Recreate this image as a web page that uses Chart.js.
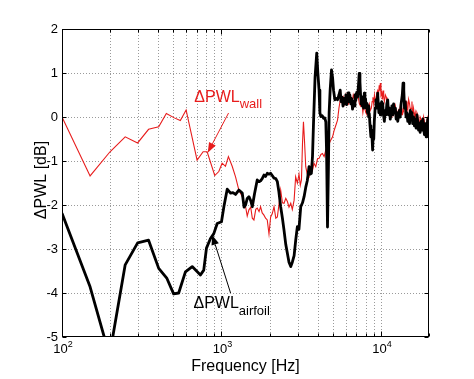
<!DOCTYPE html>
<html>
<head>
<meta charset="utf-8">
<script src="https://cdn.jsdelivr.net/npm/chart.js@4"></script>
<style>
html,body{margin:0;padding:0;background:#fff;}
#wrap{width:474px;height:379px;}
</style>
</head>
<body>
<div id="wrap"><canvas id="c" width="474" height="379"></canvas></div>
<script>
// ---------- data ----------
const xTickValues = [100,200,300,400,500,600,700,800,900,1000,2000,3000,4000,5000,6000,7000,8000,9000,10000,20000];
const xMajorTicks = [100,1000,10000];
const xMajorExponents = ['2','3','4'];
const yTickValues = [-5,-4,-3,-2,-1,0,1,2];

const wallFreq = [100,150,200,249,298,349,404,451,506,552,600,703,767,813,907,962,1009,1059,1105,1167,1225,1285,1350,1416,1450,1486,1525,1560,1597,1640,1675,1720,1758,1800,1846,1890,1936,1985,2033,2080,2135,2190,2240,2300,2350,2410,2466,2530,2590,2650,2718,2780,2853,2917,2990,3062,3120,3172,3220,3265,3310,3374,3450,3540,3620,3717,3800,3900,4000,4090,4200,4295,4400,4510,4680,4850,4970,5090,5200,5340,5450,5600,5700,5800,5900,6025,6140,6250,6360,6471,6580,6700,6820,6950,7080,7200,7320,7450,7580,7700,7800,7900,8030,8166,8300,8441,8570,8700,8800,8900,9000,9100,9200,9300,9420,9536,9650,9750,9830,9906,10000,10100,10200,10300,10400,10500,10650,10800,10900,11020,11150,11300,11430,11560,11700,11850,12000,12140,12300,12450,12600,12740,12900,13050,13200,13370,13500,13650,13800,13900,14100,14360,14540,14720,14900,15100,15280,15450,15630,15800,16000,16200,16400,16600,16800,17000,17200,17400,17600,17850,18050,18300,18500,18720,18950,19200,19430,19660,19830,20000];
const wallLevel = [0.0,-1.34,-0.79,-0.45,-0.59,-0.28,-0.22,0.08,-0.02,-0.08,0.16,-0.98,-0.79,-0.79,-1.33,-1.24,-1.05,-1.12,-0.9,-1.12,-1.36,-1.66,-1.81,-2.04,-2.25,-2.11,-2.05,-2.3,-2.34,-2.1,-2.07,-2.15,-2.04,-2.18,-2.23,-2.3,-2.34,-2.66,-2.27,-2.2,-2.04,-2.3,-2.27,-1.95,-1.66,-1.95,-1.96,-1.85,-1.92,-2.05,-1.96,-2.1,-1.89,-1.36,-1.5,-1.3,-1.55,-1.43,-0.6,-0.11,-0.5,-1.13,-1.3,-1.36,-1.15,-1.22,-1.05,-1.13,-0.95,-0.94,-0.85,-0.83,-0.9,-0.75,-0.65,-0.52,-0.45,-0.3,-0.2,-0.07,0.2,0.46,0.35,0.45,0.3,0.5,0.35,0.3,0.45,0.39,0.3,0.5,0.4,0.35,0.5,0.45,0.3,0.25,0.35,0.1,0.25,0.2,0.1,0.05,0.2,0.3,0.15,0.2,0.35,0.45,0.3,0.5,0.35,0.4,0.55,0.6,0.5,0.72,0.6,0.77,0.5,0.55,0.4,0.6,0.45,0.35,0.5,0.45,0.3,0.3,0.15,0.2,0.05,0.0,0.15,0.2,0.05,0.1,0.25,0.15,0.0,-0.05,0.15,0.1,0.25,0.2,0.05,0.05,0.2,0.15,0.3,0.35,0.2,0.15,0.4,0.3,0.15,0.2,0.35,0.05,0.2,0.0,0.1,-0.1,0.1,0.05,-0.15,-0.2,0.0,-0.05,-0.2,-0.2,0.0,-0.1,-0.3,-0.25,-0.05,0.0,-0.2,-0.15];

const airfoilFreq = [100,150,184,196,208,249,298,349,404,455,501,539,594,655,738,774,805,853,895,940,1000,1035,1086,1140,1180,1225,1285,1350,1385,1416,1450,1486,1525,1560,1610,1675,1720,1758,1800,1846,1890,1936,1985,2033,2080,2135,2190,2240,2290,2350,2410,2466,2530,2590,2650,2718,2780,2853,2920,2990,3060,3140,3220,3295,3374,3450,3540,3600,3660,3720,3775,3860,3955,4020,4090,4140,4195,4280,4365,4440,4510,4560,4620,4680,4730,4800,4895,4970,5040,5140,5240,5340,5450,5550,5620,5700,5780,5875,5950,6020,6090,6163,6230,6300,6380,6471,6550,6630,6710,6792,6870,6950,7040,7127,7220,7305,7380,7450,7510,7568,7630,7700,7780,7859,7930,8000,8080,8166,8230,8300,8370,8441,8540,8645,8750,8861,8950,9010,9080,9190,9304,9420,9536,9620,9700,9800,9906,10000,10100,10170,10250,10370,10500,10620,10750,10880,11020,11150,11300,11430,11560,11700,11850,12000,12140,12300,12450,12600,12740,12900,13050,13200,13370,13600,13750,13900,14050,14200,14360,14540,14720,14900,15100,15280,15450,15630,15800,16000,16200,16400,16600,16800,17000,17200,17400,17600,17850,18050,18300,18500,18720,18950,19200,19430,19660,19830,20000];
const airfoilLevel = [-2.19,-3.86,-5.0,-5.5,-5.0,-3.36,-2.86,-2.8,-3.44,-3.67,-4.02,-4.0,-3.52,-3.4,-3.59,-3.48,-2.98,-2.76,-2.65,-2.42,-2.38,-2.04,-1.64,-1.73,-1.72,-1.76,-1.66,-1.73,-2.05,-2.0,-1.85,-1.81,-1.9,-2.04,-1.75,-1.43,-1.47,-1.45,-1.4,-1.32,-1.35,-1.28,-1.3,-1.28,-1.33,-1.39,-1.4,-1.47,-1.7,-2.04,-2.3,-2.57,-2.9,-3.1,-3.3,-3.4,-3.3,-3.15,-2.8,-2.49,-2.55,-2.04,-1.95,-1.81,-1.6,-1.45,-1.13,-1.3,-1.28,-0.9,-0.14,0.9,1.45,1.0,0.61,0.1,0.01,0.03,-0.03,-0.02,-0.11,-0.8,-2.5,-1.2,0.1,0.61,1.07,0.9,0.61,0.39,0.42,0.39,0.5,0.61,0.35,0.45,0.25,0.42,0.3,0.5,0.28,0.39,0.55,0.35,0.5,0.3,0.42,0.18,0.35,0.25,0.5,0.38,0.56,0.45,0.7,0.99,0.8,0.5,0.3,0.46,0.25,0.38,0.2,0.54,0.3,0.42,0.2,0.31,0.1,0.25,0.0,0.08,-0.2,-0.45,-0.3,-0.75,-0.35,-0.5,-0.1,0.2,0.39,0.2,0.54,0.3,0.1,0.3,0.05,0.25,0.35,0.1,0.31,0.05,-0.1,0.15,0.05,0.3,0.39,0.05,0.2,-0.05,0.08,0.25,0.05,0.3,0.1,0.2,-0.05,0.1,-0.1,0.05,0.15,0.0,0.3,0.5,0.77,0.6,0.2,0.35,0.0,0.1,-0.1,0.05,-0.15,0.15,-0.05,0.1,-0.15,0.0,-0.2,-0.05,-0.25,0.05,-0.1,-0.3,-0.15,-0.35,-0.1,-0.3,-0.05,-0.25,-0.4,-0.15,-0.45,-0.2,-0.05,-0.3,-0.2];

const xTitle = 'Frequency [Hz]';
const yTitle = 'ΔPWL [dB]';
const wallLabel = ['ΔPWL','wall'];
const airfoilLabel = ['ΔPWL','airfoil'];

// ---------- styling / layout ----------
const FONT = '"Liberation Sans", Arial, Helvetica, sans-serif';
const RED = 'rgb(232,28,28)';
const annotations = [
  {text: wallLabel, color: RED, at: [676, 0.35], subDrop: 6, from: [1107, 0.09], to: [820, -0.81], lw: 1},
  {text: airfoilLabel, color: '#000', at: [667, -4.34], subDrop: 7.5, from: [1140, -4.0], to: [874, -2.68], lw: 1}
];

function pts(xs, ys){ return xs.map((x,i)=>({x:x, y:ys[i]})); }

const framePlugin = {
  id: 'frame',
  beforeDatasetsDraw(chart){
    const {ctx, chartArea:a, scales:{x, y}} = chart;
    ctx.save();
    ctx.strokeStyle = 'rgba(120,120,120,0.75)';
    ctx.lineWidth = 1;
    ctx.setLineDash([1,2]);
    xTickValues.forEach(v=>{
      const px = Math.round(x.getPixelForValue(v)) + 0.5;
      if (px <= a.left+1 || px >= a.right-1) return;
      ctx.beginPath(); ctx.moveTo(px, a.top); ctx.lineTo(px, a.bottom); ctx.stroke();
    });
    yTickValues.forEach(v=>{
      const py = Math.round(y.getPixelForValue(v)) + 0.5;
      if (py <= a.top+1 || py >= a.bottom-1) return;
      ctx.beginPath(); ctx.moveTo(a.left, py); ctx.lineTo(a.right, py); ctx.stroke();
    });
    ctx.restore();
  },
  afterDatasetsDraw(chart){
    const {ctx, chartArea:a, scales:{x, y}} = chart;
    ctx.save();
    ctx.strokeStyle = '#000';
    ctx.lineWidth = 1;
    ctx.setLineDash([]);
    const L = Math.round(a.left)+0.5, R = Math.round(a.right)-0.5, T = Math.round(a.top)+0.5, B = Math.round(a.bottom)-0.5;
    ctx.strokeRect(L, T, R-L, B-T);
    xTickValues.forEach(v=>{
      const px = Math.round(x.getPixelForValue(v)) + 0.5;
      const len = xMajorTicks.includes(v) ? 5 : 3;
      ctx.beginPath();
      ctx.moveTo(px, B); ctx.lineTo(px, B-len);
      ctx.moveTo(px, T); ctx.lineTo(px, T+len);
      ctx.stroke();
    });
    yTickValues.forEach(v=>{
      const py = Math.round(y.getPixelForValue(v)) + 0.5;
      ctx.beginPath();
      ctx.moveTo(L, py); ctx.lineTo(L+4, py);
      ctx.moveTo(R, py); ctx.lineTo(R-4, py);
      ctx.stroke();
    });
    annotations.forEach(an=>{
      const x1 = x.getPixelForValue(an.from[0]), y1 = y.getPixelForValue(an.from[1]);
      const x2 = x.getPixelForValue(an.to[0]), y2 = y.getPixelForValue(an.to[1]);
      ctx.strokeStyle = an.color; ctx.fillStyle = an.color; ctx.lineWidth = an.lw;
      const ang = Math.atan2(y2-y1, x2-x1);
      const hl = 10, hw = 3.8;
      const bx = x2 - hl*Math.cos(ang), by = y2 - hl*Math.sin(ang);
      ctx.beginPath(); ctx.moveTo(x1,y1); ctx.lineTo(bx,by); ctx.stroke();
      ctx.beginPath();
      ctx.moveTo(x2,y2);
      ctx.lineTo(bx + hw*Math.sin(ang), by - hw*Math.cos(ang));
      ctx.lineTo(bx - hw*Math.sin(ang), by + hw*Math.cos(ang));
      ctx.closePath(); ctx.fill();
      const tx = x.getPixelForValue(an.at[0]), ty = y.getPixelForValue(an.at[1]);
      ctx.textAlign = 'left'; ctx.textBaseline = 'alphabetic';
      ctx.font = '16px ' + FONT;
      ctx.fillText(an.text[0], tx, ty);
      const w = ctx.measureText(an.text[0]).width;
      ctx.font = '13px ' + FONT;
      ctx.fillText(an.text[1], tx + w, ty + an.subDrop);
    });
    ctx.restore();
  },
  afterDraw(chart){
    const {ctx, chartArea:a, scales:{x}} = chart;
    ctx.save();
    ctx.fillStyle = '#000';
    ctx.textBaseline = 'alphabetic';
    xMajorTicks.forEach((v,i)=>{
      const px = x.getPixelForValue(v);
      ctx.font = '13px ' + FONT;
      const wb = ctx.measureText('10').width;
      ctx.font = '9px ' + FONT;
      const we = ctx.measureText(xMajorExponents[i]).width;
      const sx = px - (wb+we)/2 + 1;
      ctx.font = '13px ' + FONT; ctx.textAlign='left';
      ctx.fillText('10', sx, a.bottom + 16);
      ctx.font = '9px ' + FONT;
      ctx.fillText(xMajorExponents[i], sx + wb, a.bottom + 9.5);
    });
    ctx.font = '16px ' + FONT;
    ctx.textAlign = 'center';
    ctx.fillText(xTitle, (a.left + a.right)/2, a.bottom + 34);
    ctx.save();
    ctx.translate(a.left - 16, (a.top + a.bottom)/2 - 3);
    ctx.rotate(-Math.PI/2);
    ctx.fillText(yTitle, 0, 0);
    ctx.restore();
    ctx.restore();
  }
};

new Chart(document.getElementById('c'), {
  type: 'line',
  data: {
    datasets: [
      {label: 'airfoil', data: pts(airfoilFreq, airfoilLevel), borderColor: '#000', borderWidth: 2.8, pointRadius: 0, tension: 0, fill: false, borderJoinStyle: 'round'},
      {label: 'wall', data: pts(wallFreq, wallLevel), borderColor: RED, borderWidth: 1.1, pointRadius: 0, tension: 0, fill: false}
    ]
  },
  options: {
    responsive: false,
    animation: false,
    events: [],
    layout: {padding: {left: 0, top: 29, right: 45, bottom: 0}},
    plugins: {legend: {display: false}, tooltip: {enabled: false}},
    scales: {
      x: {
        type: 'logarithmic', min: 100, max: 20000, position: 'bottom',
        afterBuildTicks(s){ s.ticks = xTickValues.map(v=>({value: v})); },
        afterFit(s){ s.height = 42; },
        ticks: {display: false, autoSkip: false},
        grid: {display: false, drawTicks: false},
        border: {display: false}
      },
      y: {
        type: 'linear', min: -5, max: 2,
        afterBuildTicks(s){ s.ticks = yTickValues.map(v=>({value: v})); },
        afterFit(s){ s.width = 62; },
        ticks: {color: '#000', font: {family: FONT, size: 13}, padding: 4, callback: v => String(v)},
        grid: {display: false, drawTicks: false},
        border: {display: false}
      }
    }
  },
  plugins: [framePlugin]
});
</script>
</body>
</html>
